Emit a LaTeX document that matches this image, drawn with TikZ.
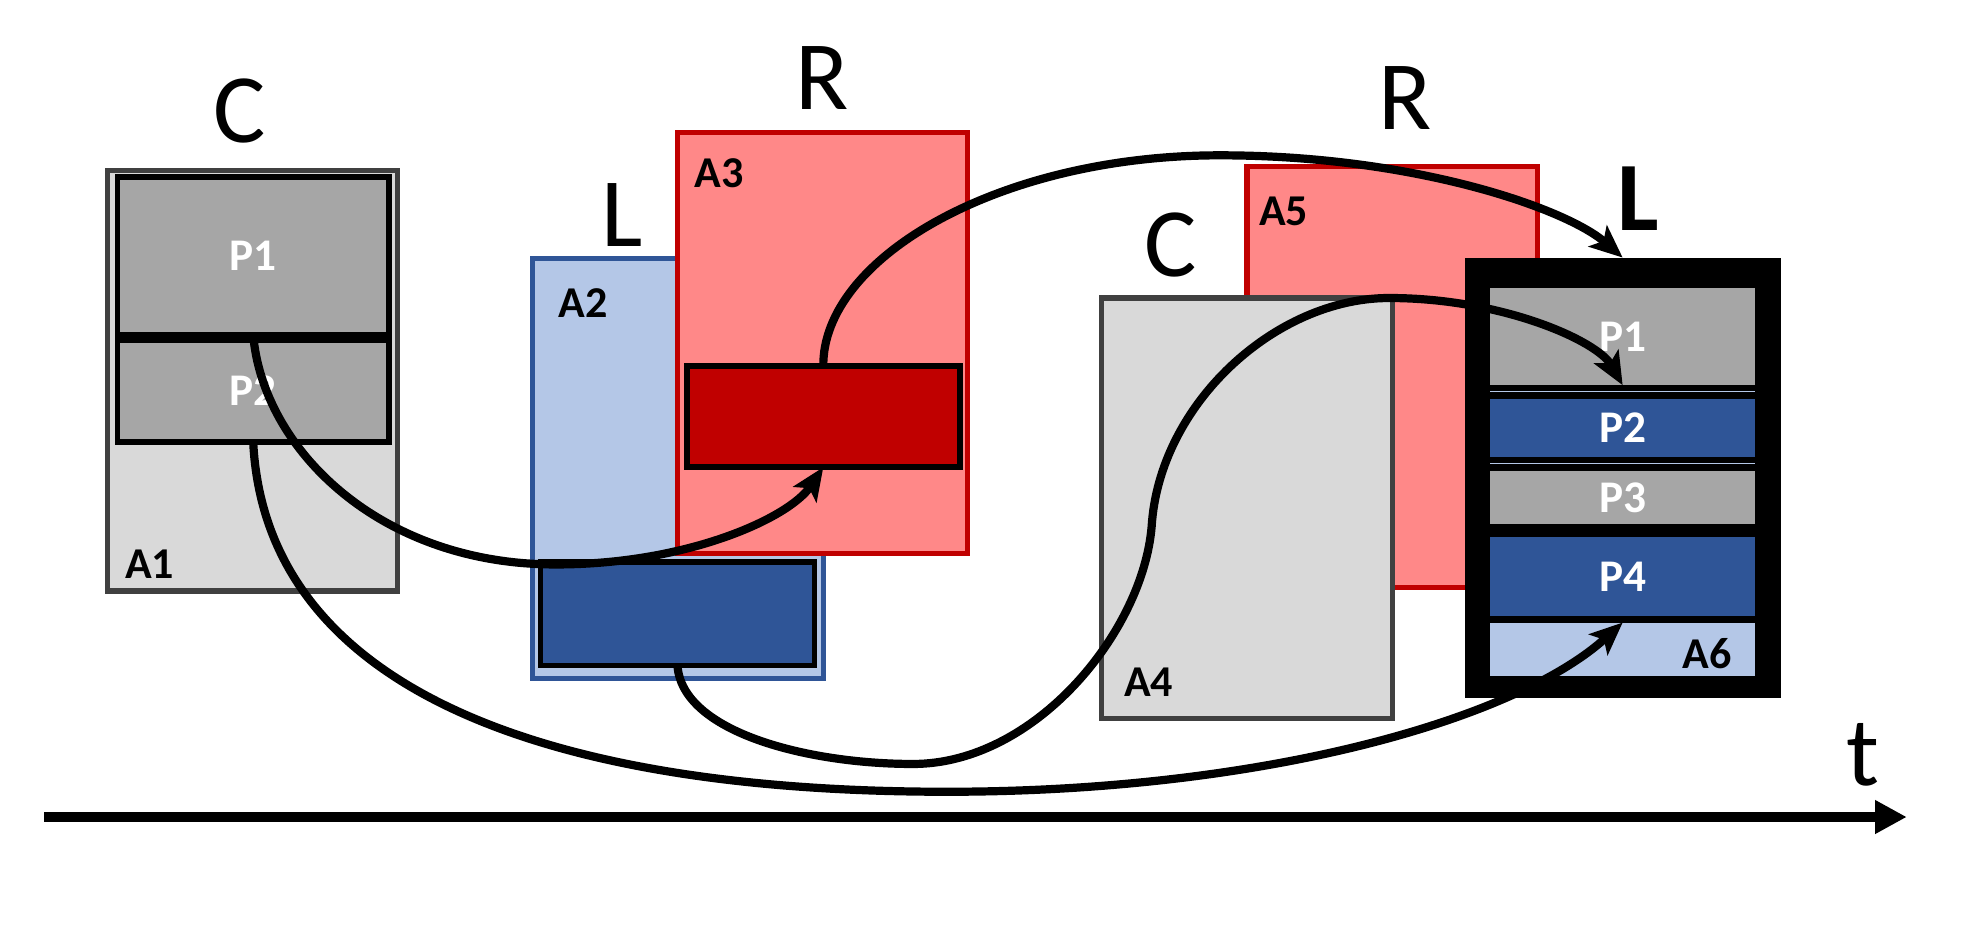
\documentclass[tikz,border=0pt]{standalone}
\usepackage{fontspec}
\setmainfont{Carlito}
\usetikzlibrary{arrows.meta}
\definecolor{agray}{HTML}{D9D9D9}
\definecolor{agrayb}{HTML}{404040}
\definecolor{pgray}{HTML}{A6A6A6}
\definecolor{lblue}{HTML}{B4C7E7}
\definecolor{dblue}{HTML}{2F5597}
\definecolor{lred}{HTML}{FF8888}
\definecolor{dred}{HTML}{C00000}
\begin{document}
\begin{tikzpicture}[x=1bp,y=-1bp,
  area/.style={draw, line width=4bp, inner sep=0pt, outer sep=0pt, minimum width=230bp, minimum height=333bp},
  graya/.style={area, fill=agray, draw=agrayb},
  bluea/.style={area, fill=lblue, draw=dblue},
  reda/.style={area, fill=lred, draw=dred},
  pbox/.style={draw=black, line width=4.5bp, inner sep=0pt, outer sep=0pt, text=white, font=\fontsize{36}{36}\selectfont\bfseries},
  sbox/.style={inner sep=0pt, outer sep=0pt, text=white, font=\fontsize{36}{36}\selectfont\bfseries},
  alabel/.style={inner sep=0pt, font=\fontsize{35}{35}\selectfont\bfseries, text=black},
  big/.style={inner sep=0pt, font=\fontsize{78}{78}\selectfont},
  conn/.style={line width=6.5bp, -{Stealth[length=26bp,width=22bp,inset=6bp]}}
]
\useasboundingbox (0,0) rectangle (1568,748);
% left group
\node[graya] (A1) at (200,301.5) {};
\node[pbox, fill=pgray, minimum width=215bp, minimum height=125bp] (lP1) at (200.5,202.5) {P1};
\node[pbox, fill=pgray, minimum width=215bp, minimum height=81bp] (lP2) at (200.5,309.5) {P2};
\node[alabel, anchor=west] (tA1) at (99,447) {A1};
\node[big] (lC) at (190,88) {C};
% middle group
\node[bluea] (A2) at (537,371) {};
\node[pbox, fill=dblue, minimum width=217bp, minimum height=82bp] (bR) at (536.5,486) {};
\node[reda] (A3) at (651.5,271.5) {};
\node[pbox, fill=dred, minimum width=216bp, minimum height=80bp] (rR) at (652,330) {};
\node[alabel, anchor=west] (tA2) at (442,240) {A2};
\node[alabel, anchor=west] (tA3) at (550,137) {A3};
\node[big] (mL) at (493,170) {L};
\node[big] (mR) at (651,62) {R};
% right group
\node[reda] (A5) at (1102.5,298.5) {};
\node[graya] (A4) at (987.5,402.5) {};
\node[alabel, anchor=west] (tA5) at (997,167) {A5};
\node[alabel, anchor=west] (tA4) at (890,540) {A4};
\node[big] (rC) at (927,194) {C};
\node[big] (rRl) at (1113,78) {R};
\node[big, font=\fontsize{78}{78}\selectfont\bfseries] (rL) at (1297,157) {L};
\node[fill=black, inner sep=0pt, outer sep=0pt, minimum width=250bp, minimum height=349bp] (BB) at (1285,378.5) {};
\node[sbox, fill=pgray, minimum width=210bp, minimum height=77bp] (sP1) at (1285,266.5) {P1};
\node[sbox, fill=dblue, minimum width=210bp, minimum height=46bp] (sP2) at (1285,339) {P2};
\node[sbox, fill=pgray, minimum width=210bp, minimum height=42bp] (sP3) at (1285,394) {P3};
\node[sbox, fill=dblue, minimum width=210bp, minimum height=63bp] (sP4) at (1285,456.5) {P4};
\node[sbox, fill=lblue, minimum width=210bp, minimum height=42bp] (sA6) at (1285,514) {};
\node[alabel, anchor=center] (tA6) at (1352,518) {A6};
\draw[lblue, line width=1.2bp] (sP1.south west) ++(0,5) -- ++(210,0);
\draw[lblue, line width=1.2bp] (sP2.south west) ++(0,5) -- ++(210,0);
% connectors
\draw[conn] (lP1.south) .. controls (208,355) and (300,447) .. (440,447)
  .. controls (545,447) and (625,410) .. (rR.south);
\draw[conn] (rR.north) .. controls (651,205) and (790,123) .. (966,123)
  .. controls (1120,123) and (1240,165) .. (BB.north);
\draw[conn] (bR.south) .. controls (540,580) and (640,605) .. (723,605)
  .. controls (820,605) and (905,500) .. (912,417)
  .. controls (918,320) and (1010,236) .. (1100,236)
  .. controls (1190,236) and (1265,270) .. (sP1.south);
\draw[conn] (lP2.south) .. controls (210,540) and (420,627) .. (750,627)
  .. controls (1000,627) and (1200,570) .. (sA6.north);
% time axis
\coordinate (t0) at (35,647);
\coordinate (t1) at (1510,647);
\draw[line width=7.5bp, -{Triangle[length=25bp,width=25bp]}] (t0) -- (t1);
\node[big] (tt) at (1475,598) {t};
\end{tikzpicture}
\end{document}
